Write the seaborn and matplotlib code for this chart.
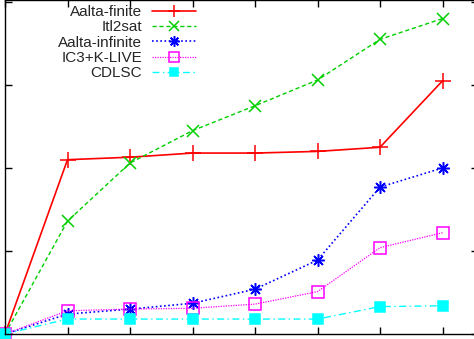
import matplotlib
matplotlib.use("Agg")
import matplotlib.pyplot as plt
import seaborn as sns
import pandas as pd

x_vals = [0, 1, 2, 3, 4, 5, 6, 7]
aalta_finite = [0.0, 2.10, 2.13, 2.18, 2.18, 2.20, 2.25, 3.05]
itl2sat = [0.0, 1.36, 2.06, 2.45, 2.75, 3.06, 3.55, 3.80]
aalta_infinite = [0.0, 0.24, 0.30, 0.37, 0.54, 0.89, 1.77, 2.00]
ic3_klive = [0.0, 0.28, 0.30, 0.31, 0.36, 0.51, 1.04, 1.22]
cdlsc = [0.0, 0.18, 0.18, 0.18, 0.18, 0.18, 0.33, 0.34]

series_names = ["Aalta-finite", "Itl2sat", "Aalta-infinite", "IC3+K-LIVE", "CDLSC"]
series_values = [aalta_finite, itl2sat, aalta_infinite, ic3_klive, cdlsc]

sns.set_theme(style="ticks")
plt.rcParams['font.family'] = ['Liberation Sans', 'DejaVu Sans']

fig = plt.figure(figsize=(4.74, 3.39), dpi=100)
W, H = 474, 339
x0_px, x_unit = 5, 62.5
y0_px, y_unit = 334, 83
xmax, ymax = 7.56, 4.03
left = x0_px / W
bottom = (H - y0_px) / H
ax = fig.add_axes([left, bottom, xmax * x_unit / W, ymax * y_unit / H])

styles = [
    dict(color="#ff0000", marker="+", linestyle="-", markersize=11, linewidth=1.2, mfc="none"),
    dict(color="#00d000", marker="x", linestyle=(0, (3, 2)), markersize=9, linewidth=1.0, mfc="none"),
    dict(color="#0000ff", marker=(8, 2, 0), linestyle=(0, (1, 1.5)), markersize=9, linewidth=1.2, mfc="none"),
    dict(color="#ff00ff", marker="s", linestyle=(0, (1, 1)), markersize=8, linewidth=0.9, mfc="none"),
    dict(color="#00ffff", marker="s", linestyle=(0, (5, 2.5, 1, 2.5)), markersize=7, linewidth=1.0, mfc="#00ffff"),
]

for name, vals, st in zip(series_names, series_values, styles):
    df = pd.DataFrame({"x": x_vals, "y": vals})
    sns.lineplot(data=df, x="x", y="y", ax=ax, label=name,
                 color=st["color"], marker=st["marker"], linestyle=st["linestyle"],
                 markersize=st["markersize"], linewidth=st["linewidth"],
                 markerfacecolor=st["mfc"], markeredgecolor=st["color"],
                 markeredgewidth=1.1, clip_on=False)

ax.set_xlim(0, xmax)
ax.set_ylim(0, ymax)
ax.set_xticks(x_vals)
ax.set_yticks([0, 1, 2, 3, 4])
ax.tick_params(direction="in", length=5, width=1, top=True, right=True,
               labelleft=False, labelbottom=False, color="black")
for s in ax.spines.values():
    s.set_color("black")
    s.set_linewidth(1.0)
ax.set_xlabel("")
ax.set_ylabel("")

leg = ax.legend(loc="upper left", bbox_to_anchor=(0.099, 1.002), markerfirst=False,
                frameon=False, fontsize=11, handlelength=2.9, labelspacing=0.09,
                handletextpad=0.65, borderaxespad=0.0, markerscale=0.85)
fig.savefig("out.png", dpi=100)
